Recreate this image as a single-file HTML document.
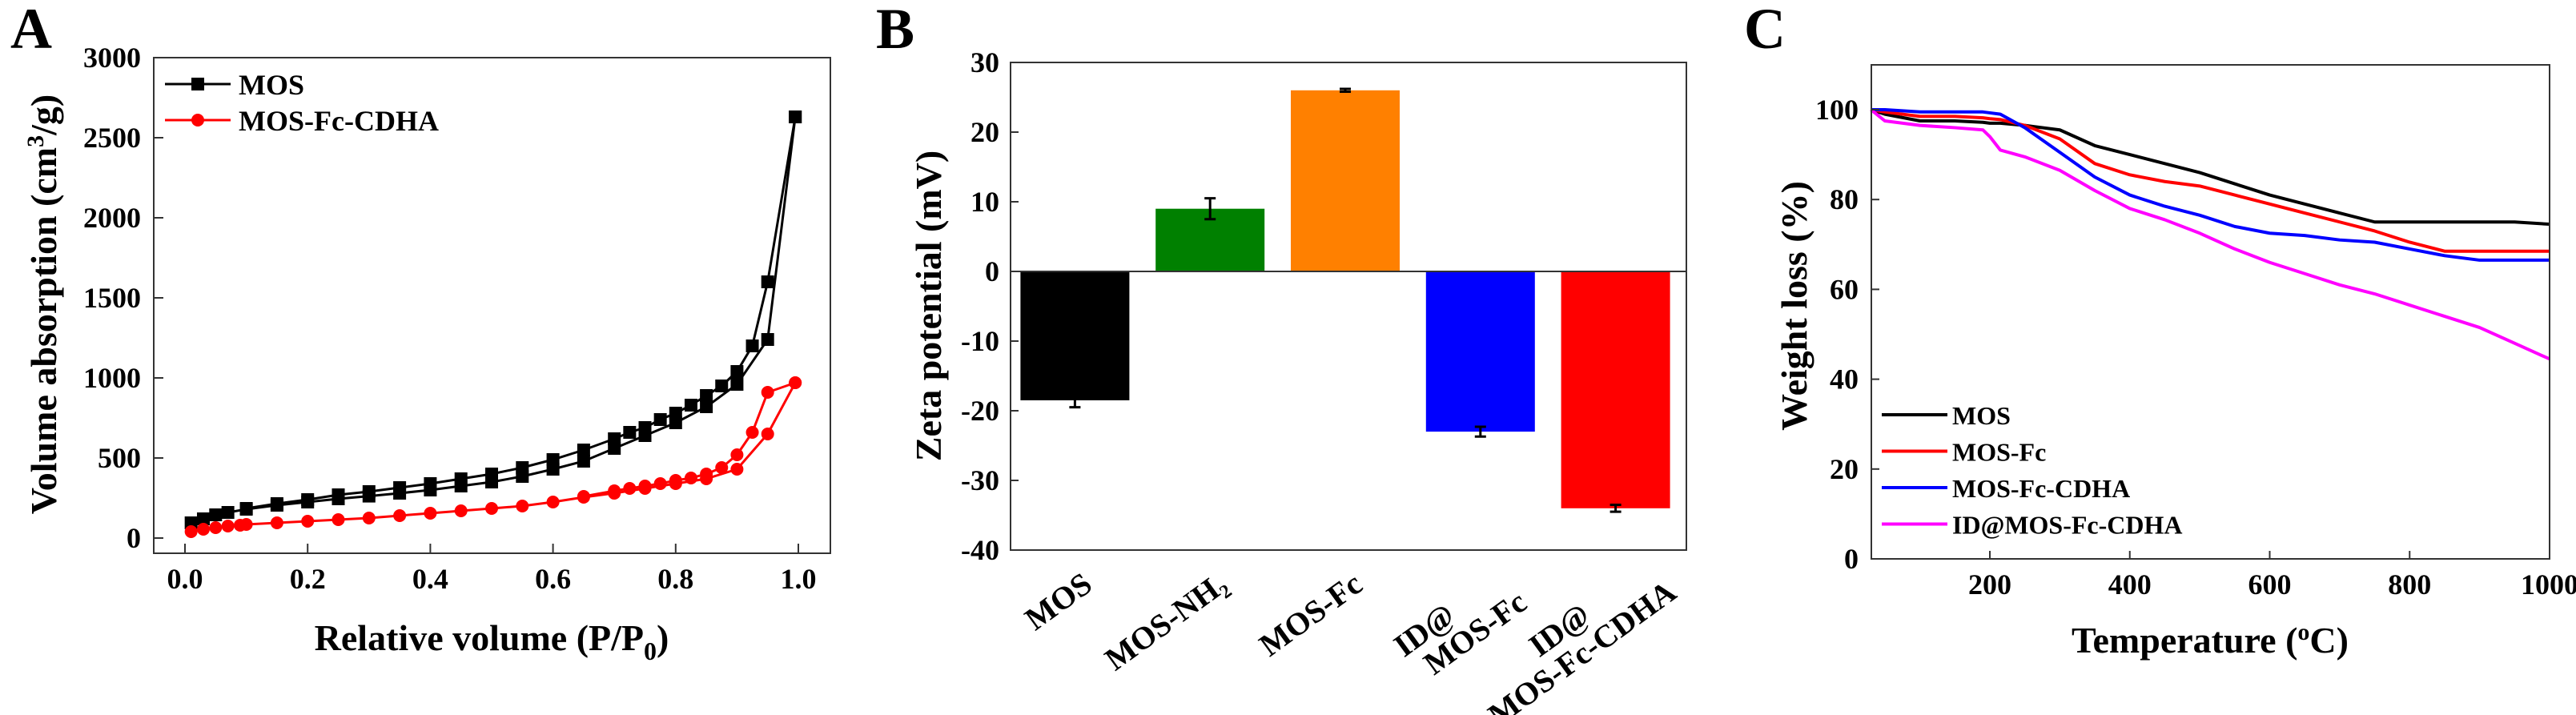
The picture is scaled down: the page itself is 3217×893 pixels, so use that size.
<!DOCTYPE html>
<html><head><meta charset="utf-8"><style>
html,body{margin:0;padding:0;background:#fff;}
svg{display:block;font-family:"Liberation Serif",serif;font-weight:bold;}
</style></head><body>
<svg id="fig" width="3217" height="893" viewBox="0 0 3217 893" xmlns="http://www.w3.org/2000/svg">
<g id="pa"></g>
<g id="pb"></g>
<g id="pc"></g>
</svg>
<script>
// ---- Panel A data ----
const aMosAdsX=[0.01,0.03,0.05,0.07,0.1,0.15,0.2,0.25,0.3,0.35,0.4,0.45,0.5,0.55,0.6,0.65,0.7,0.75,0.8,0.85,0.9,0.95,0.995];
const aMosAdsY=[95,120,145,160,180,205,225,245,262,280,300,325,350,385,430,480,560,640,720,820,960,1240,2630];
const aMosDesX=[0.995,0.95,0.925,0.9,0.875,0.85,0.825,0.8,0.775,0.75,0.725,0.7,0.65,0.6,0.55,0.5,0.45,0.4,0.35,0.3,0.25,0.2,0.15,0.1];
const aMosDesY=[2630,1600,1200,1040,950,890,830,780,740,690,660,620,550,490,440,400,370,340,315,290,270,240,215,185];
const aRedAdsX=[0.01,0.03,0.05,0.07,0.09,0.1,0.15,0.2,0.25,0.3,0.35,0.4,0.45,0.5,0.55,0.6,0.65,0.7,0.75,0.8,0.85,0.9,0.95,0.995];
const aRedAdsY=[40,55,65,75,80,85,95,105,115,125,140,155,170,185,200,225,255,280,310,340,370,430,650,970];
const aRedDesX=[0.995,0.95,0.925,0.9,0.875,0.85,0.825,0.8,0.775,0.75,0.725,0.7,0.65];
const aRedDesY=[970,910,660,520,440,400,375,360,340,325,310,295,260];
const aXTicks=[0,0.2,0.4,0.6,0.8,1.0];
const aXTickLabels=["0.0","0.2","0.4","0.6","0.8","1.0"];
const aYTicks=[0,500,1000,1500,2000,2500,3000];
// ---- Panel B data ----
const bCategories=[["MOS"],["MOS-NH\u2082"],["MOS-Fc"],["ID@","MOS-Fc"],["ID@","MOS-Fc-CDHA"]];
const bValues=[-18.5,9,26,-23,-34];
const bErrors=[1.0,1.5,0.2,0.7,0.5];
const bColors=["#000000","#008000","#ff8000","#0000ff","#ff0000"];
const bYTicks=[-40,-30,-20,-10,0,10,20,30];
// ---- Panel C data ----
const cTemps=[30,50,100,150,190,200,215,250,300,350,400,450,500,550,600,650,700,750,800,850,900,950,1000];
const cMos=[100,99,97.5,97.5,97.2,97,97,96.5,95.5,92,90,88,86,83.5,81,79,77,75,75,75,75,75,74.5];
const cFc=[100,99.5,98.5,98.5,98.2,98,97.8,96.5,93.5,88,85.5,84,83,81,79,77,75,73,70.5,68.5,68.5,68.5,68.5];
const cCdha=[100,100,99.5,99.5,99.5,99.3,99,96,90.5,85,81,78.5,76.5,74,72.5,72,71,70.5,69,67.5,66.5,66.5,66.5];
const cId=[100,97.5,96.5,96,95.5,94,91,89.5,86.5,82,78,75.5,72.5,69,66,63.5,61,59,56.5,54,51.5,48,44.5];
const cXTicks=[200,400,600,800,1000];
const cYTicks=[0,20,40,60,80,100];

const NS="http://www.w3.org/2000/svg";
function mk(parent,tag,attrs,text){const e=document.createElementNS(NS,tag);for(const k in attrs)e.setAttribute(k,attrs[k]);if(text!==undefined)e.textContent=text;parent.appendChild(e);return e;}

// ===== Panel A =====
(function(){
const g=document.getElementById('pa');
const L=192,R=1037,T=72,B=691;
const xs=v=>231+v*(997-231);
const ys=v=>672-v*0.2;
let t=mk(g,'text',{x:13,y:60,'font-size':72});t.textContent='A';


let f=mk(g,'rect',{x:L,y:T,width:R-L,height:B-T,fill:'none',stroke:'#333','stroke-width':2});


aYTicks.forEach(v=>{
 mk(g,'line',{x1:L,x2:L+12,y1:ys(v),y2:ys(v),stroke:'#333','stroke-width':2});
 const e=mk(g,'text',{x:L-16,y:ys(v)+12,'font-size':36,'text-anchor':'end'},String(v));
 
 
});
aXTicks.forEach((v,i)=>{
 mk(g,'line',{x1:xs(v),x2:xs(v),y1:B,y2:B-12,stroke:'#333','stroke-width':2});
 const e=mk(g,'text',{x:xs(v),y:735,'font-size':36,'text-anchor':'middle'},aXTickLabels[i]);
 
 
});
let xt=mk(g,'text',{x:614,y:812,'font-size':46,'text-anchor':'middle'});
xt.innerHTML='Relative volume (P/P<tspan dy="12" font-size="32">0</tspan><tspan dy="-12">)</tspan>';


let yt=mk(g,'text',{x:0,y:0,'font-size':46,'text-anchor':'middle',transform:'translate(70,380) rotate(-90)'});
yt.innerHTML='Volume absorption (cm<tspan dy="-16" font-size="30">3</tspan><tspan dy="16">/g)</tspan>';


function series(X,Y,color,marker,name){
 const s=mk(g,'g',{});
 
 
 mk(s,'polyline',{points:X.map((x,i)=>xs(x)+','+ys(Y[i])).join(' '),fill:'none',stroke:color,'stroke-width':3});
 X.forEach((x,i)=>{
  if(marker==='sq')mk(s,'rect',{x:xs(x)-8,y:ys(Y[i])-8,width:16,height:16,fill:color});
  else mk(s,'circle',{cx:xs(x),cy:ys(Y[i]),r:8,fill:color});
 });
}
series(aMosAdsX,aMosAdsY,'#000','sq','mos-adsorption-line');
series(aMosDesX,aMosDesY,'#000','sq','mos-desorption-line');
series(aRedAdsX,aRedAdsY,'#ff0000','ci','mos-fc-cdha-adsorption-line');
series(aRedDesX,aRedDesY,'#ff0000','ci','mos-fc-cdha-desorption-line');
const lg=mk(g,'g',{});


[['MOS','#000','sq',105],['MOS-Fc-CDHA','#ff0000','ci',150]].forEach(d=>{
 const le=mk(lg,'g',{});
 
 
 mk(le,'line',{x1:206,x2:288,y1:d[3],y2:d[3],stroke:d[1],'stroke-width':3});
 if(d[2]==='sq')mk(le,'rect',{x:239,y:d[3]-8,width:16,height:16,fill:d[1]});else mk(le,'circle',{cx:247,cy:d[3],r:8,fill:d[1]});
 mk(le,'text',{x:298,y:d[3]+13,'font-size':36},d[0]);
});
})();

// ===== Panel B =====
(function(){
const g=document.getElementById('pb');
const L=1262,R=2106,T=78,B=687;
const ys=v=>339-v*(609/70);
const band=(R-L)/bValues.length;
const xc=i=>L+band*(i+0.5)-4;
const bw=136;
let t=mk(g,'text',{x:1094,y:60,'font-size':72});t.textContent='B';


bValues.forEach((v,i)=>{
 const r=mk(g,'rect',{x:xc(i)-bw/2,y:Math.min(ys(v),ys(0)),width:bw,height:Math.abs(ys(v)-ys(0)),fill:bColors[i]});
 
 
 const e=bErrors[i],top=ys(v+e),bot=ys(v-e);
 const eb=mk(g,'path',{d:`M${xc(i)} ${top}V${bot}M${xc(i)-7} ${top}H${xc(i)+7}M${xc(i)-7} ${bot}H${xc(i)+7}`,stroke:'#000','stroke-width':3,fill:'none'});
 
 
});
mk(g,'line',{x1:L,x2:R,y1:ys(0),y2:ys(0),stroke:'#333','stroke-width':2});
let f=mk(g,'rect',{x:L,y:T,width:R-L,height:B-T,fill:'none',stroke:'#333','stroke-width':2});


bYTicks.forEach(v=>{
 mk(g,'line',{x1:L,x2:L+10,y1:ys(v),y2:ys(v),stroke:'#333','stroke-width':2});
 const e=mk(g,'text',{x:L-14,y:ys(v)+12,'font-size':36,'text-anchor':'end'},String(v));
 
 
});
function j2(s){return s.length>8?38:16;}
bCategories.forEach((c,i)=>{
 const tx=xc(i)+24, ty=735;
 const e=mk(g,'text',{'font-size':40,'text-anchor':'end',transform:`translate(${tx},${ty}) rotate(-36)`});
 
 
 c.forEach((line,j)=>{mk(e,'tspan',{x:0,y:j*40},line);});
 if(c.length>1){e.childNodes[0].setAttribute('x',-66);e.childNodes[1].setAttribute('x',j2(c[1]));}
});
let yt=mk(g,'text',{x:0,y:0,'font-size':46,'text-anchor':'middle',transform:'translate(1175,382) rotate(-90)'},'Zeta potential (mV)');


})();

// ===== Panel C =====
(function(){
const g=document.getElementById('pc');
const L=2337,R=3184,T=81,B=698;
const xs=v=>2485+(v-200)*(699/800);
const ys=v=>698-v*5.61;
let t=mk(g,'text',{x:2178,y:60,'font-size':72});t.textContent='C';


const ser=[[cMos,'#000000','MOS','mos-line'],[cFc,'#ff0000','MOS-Fc','mos-fc-line'],[cCdha,'#0000ff','MOS-Fc-CDHA','mos-fc-cdha-line'],[cId,'#ff00ff','ID@MOS-Fc-CDHA','id-mos-fc-cdha-line']];
ser.forEach(s=>{
 const p=mk(g,'polyline',{points:cTemps.map((x,i)=>xs(x)+','+ys(s[0][i])).join(' '),fill:'none',stroke:s[1],'stroke-width':4,'stroke-linejoin':'round'});
 
 
});
let f=mk(g,'rect',{x:L,y:T,width:R-L,height:B-T,fill:'none',stroke:'#333','stroke-width':2});


cYTicks.forEach(v=>{
 mk(g,'line',{x1:L,x2:L+10,y1:ys(v),y2:ys(v),stroke:'#333','stroke-width':2});
 const e=mk(g,'text',{x:L-16,y:ys(v)+12,'font-size':36,'text-anchor':'end'},String(v));
 
 
});
cXTicks.forEach(v=>{
 mk(g,'line',{x1:xs(v),x2:xs(v),y1:B,y2:B-10,stroke:'#333','stroke-width':2});
 const e=mk(g,'text',{x:xs(v),y:742,'font-size':36,'text-anchor':'middle'},String(v));
 
 
});
let xt=mk(g,'text',{x:2760,y:815,'font-size':46,'text-anchor':'middle'});
xt.innerHTML='Temperature (<tspan dy="-16" font-size="30">o</tspan><tspan dy="16">C)</tspan>';


let yt=mk(g,'text',{x:0,y:0,'font-size':46,'text-anchor':'middle',transform:'translate(2256,382) rotate(-90)'},'Weight loss (%)');


const lg=mk(g,'g',{});


ser.forEach((s,i)=>{
 const y=518+i*45.5;
 const le=mk(lg,'g',{});
 
 
 mk(le,'line',{x1:2350,x2:2432,y1:y,y2:y,stroke:s[1],'stroke-width':4});
 mk(le,'text',{x:2438,y:y+12,'font-size':32},s[2]);
});
})();
</script>
</body></html>
